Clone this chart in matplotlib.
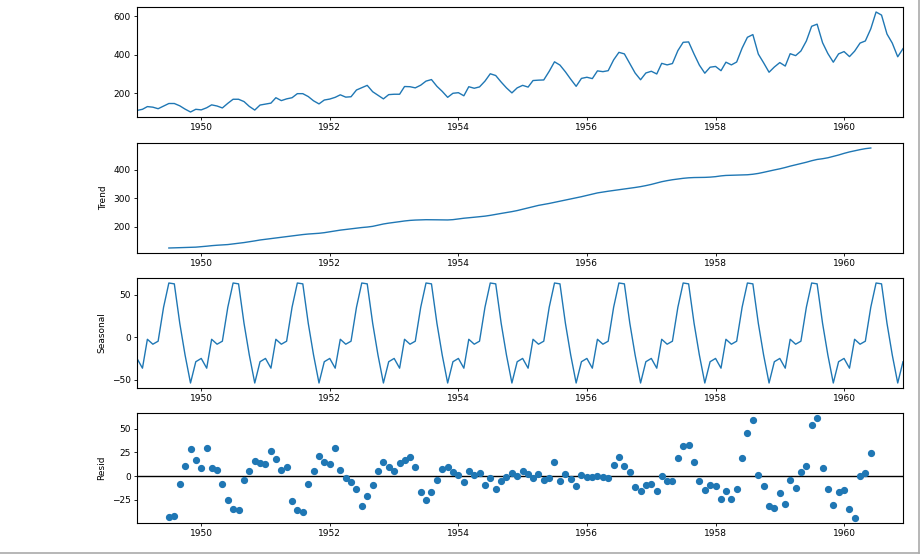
import numpy as np
import pandas as pd
import matplotlib
matplotlib.use('Agg')
import matplotlib.pyplot as plt
import matplotlib.dates as mdates
from matplotlib.lines import Line2D

# monthly airline passengers 1949-1960
passengers = [
    112, 118, 132, 129, 121, 135, 148, 148, 136, 119, 104, 118,
    115, 126, 141, 135, 125, 149, 170, 170, 158, 133, 114, 140,
    145, 150, 178, 163, 172, 178, 199, 199, 184, 162, 146, 166,
    171, 180, 193, 181, 183, 218, 230, 242, 209, 191, 172, 194,
    196, 196, 236, 235, 229, 243, 264, 272, 237, 211, 180, 201,
    204, 188, 235, 227, 234, 264, 302, 293, 259, 229, 203, 229,
    242, 233, 267, 269, 270, 315, 364, 347, 312, 274, 237, 278,
    284, 277, 317, 313, 318, 374, 413, 405, 355, 306, 271, 306,
    315, 301, 356, 348, 355, 422, 465, 467, 404, 347, 305, 336,
    340, 318, 362, 348, 363, 435, 491, 505, 404, 359, 310, 337,
    360, 342, 406, 396, 420, 472, 548, 559, 463, 407, 362, 405,
    417, 391, 419, 461, 472, 535, 622, 606, 508, 461, 390, 432,
]
start_month = '1949-01'
period = 12

dates = pd.date_range(start_month, periods=len(passengers), freq='MS')
obs = pd.Series(passengers, index=dates, dtype=float)

# classical additive decomposition (2x12 centred moving average)
trend = obs.rolling(period).mean().rolling(2).mean().shift(-period // 2)
detr = (obs - trend).values
pos = np.arange(len(obs)) % period
month_means = np.array([np.nanmean(detr[pos == k]) for k in range(period)])
month_means -= month_means.mean()
seasonal = pd.Series(month_means[pos], index=dates)
resid = obs - trend - seasonal

W, H = 922, 557
fig = plt.figure(figsize=(W / 100, H / 100), dpi=100)
plt.rcParams['font.size'] = 6.5

left, right = 137 / W, 903 / W
tops = [7, 143, 278, 413]
hgt = 110
axes = []
for t in tops:
    ax = fig.add_axes([left, 1 - (t + hgt) / H, right - left, hgt / H])
    axes.append(ax)

c = '#1f77b4'
axes[0].plot(obs.index, obs.values, color=c, lw=1.0)
axes[1].plot(trend.index, trend.values, color=c, lw=1.0)
axes[1].set_ylabel('Trend', fontsize=6.5)
axes[2].plot(seasonal.index, seasonal.values, color=c, lw=1.0)
axes[2].set_ylabel('Seasonal', fontsize=6.5)
axes[3].plot(resid.index, resid.values, marker='o', ls='none', color=c, ms=4.2)
axes[3].axhline(0, color='black', lw=1.0, zorder=-1)
axes[3].set_ylabel('Resid', fontsize=6.5)

axes[0].set_yticks([200, 400, 600])
axes[1].set_yticks([200, 300, 400])
axes[2].set_yticks([-50, 0, 50])
axes[3].set_yticks([-25, 0, 25, 50])

for ax in axes:
    ax.set_xlim(dates[0], dates[-1])
    ax.xaxis.set_major_locator(mdates.YearLocator(2))
    ax.xaxis.set_major_formatter(mdates.DateFormatter('%Y'))
    ax.tick_params(labelsize=6.5, length=2.5, width=0.6, pad=2)
    for s in ax.spines.values():
        s.set_linewidth(0.8)

# grey screenshot border
fig.add_artist(Line2D([919 / W, 919 / W], [1 - 553 / H, 1], transform=fig.transFigure,
                      color='#aaaaaa', lw=1.2))
fig.add_artist(Line2D([0, 919 / W], [1 - 553 / H, 1 - 553 / H], transform=fig.transFigure,
                      color='#aaaaaa', lw=1.2))

fig.savefig('out.png', dpi=100)
